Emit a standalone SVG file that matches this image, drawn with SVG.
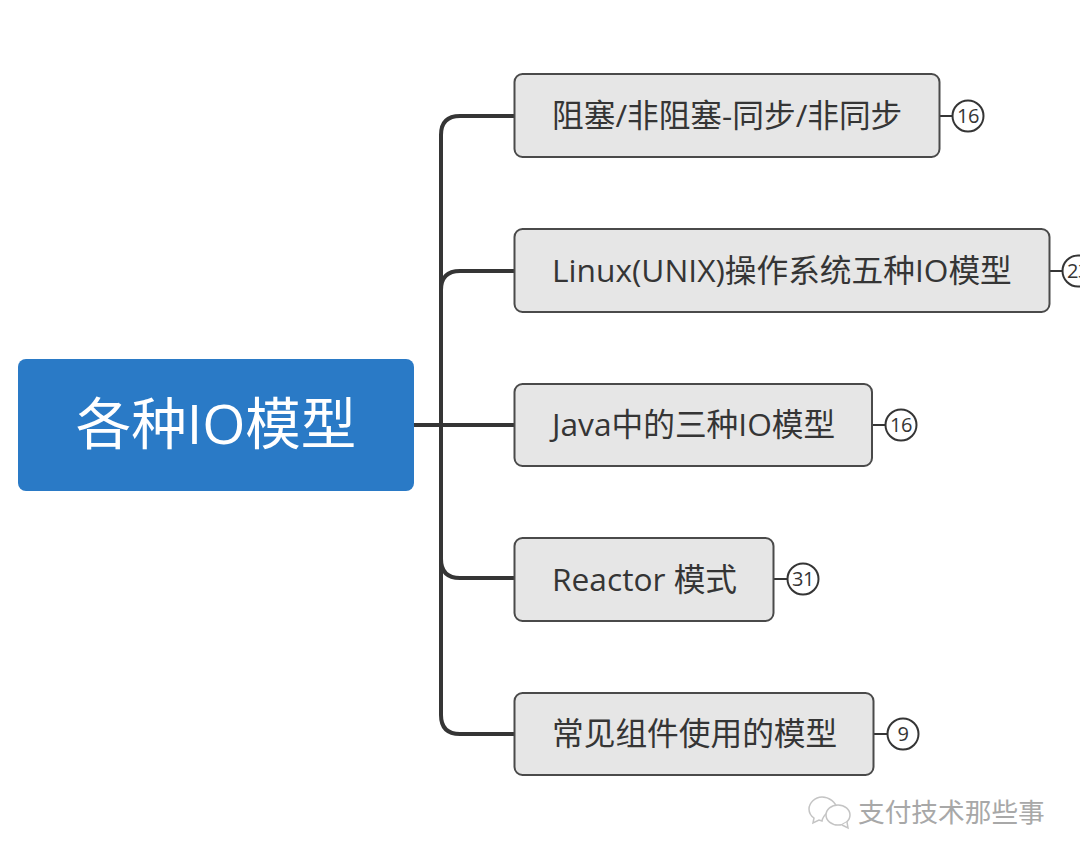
<svg xmlns="http://www.w3.org/2000/svg" width="1080" height="860" viewBox="0 0 1080 860">
<style>
text{font-family:"Noto Sans CJK SC","Noto Sans",sans-serif}
.n{fill:#e6e6e6;stroke:#4a4a4a;stroke-width:2}
.t{font-size:31.7px;fill:#353535;font-family:"Open Sans","Noto Sans CJK SC",sans-serif}
.c{fill:#fff;stroke:#353535;stroke-width:2}
.b{font-size:20px;fill:#353535;text-anchor:middle;font-family:"Open Sans",sans-serif;letter-spacing:-0.5px}
.l{fill:none;stroke:#353535;stroke-width:4}
.s{fill:none;stroke:#353535;stroke-width:2}
</style>
<rect width="1080" height="860" fill="#fff"/>
<g id="connectors">
<path class="l" d="M414 425H514"/>
<path class="l" d="M514 116H460Q441 116 441 135V715Q441 734 460 734H514"/>
<path class="l" d="M514 271H460Q441 271 441 290"/>
<path class="l" d="M514 578H460Q441 578 441 559"/>
<path class="s" d="M940 116H953M1050 271H1063M873 425H886M774 579H787M874 734H887"/>
</g>
<g id="root"><rect x="18" y="359" width="396" height="132" rx="8" fill="#2a7ac6"/>
<text x="216" y="444" font-size="55.5" fill="#fff" text-anchor="middle" style="font-family:'Open Sans','Noto Sans CJK SC',sans-serif">各种IO模型</text></g>
<g id="node1"><rect class="n" x="514.5" y="74" width="425" height="83" rx="8"/><text class="t" x="552" y="127">阻塞/非阻塞-同步/非同步</text>
<circle class="c" cx="968" cy="116" r="15.5"/><text class="b" x="968" y="123">16</text></g>
<g id="node2"><rect class="n" x="514.5" y="229" width="535" height="83" rx="8"/><text class="t" x="552" y="282">Linux(UNIX)操作系统五种IO模型</text>
<circle class="c" cx="1078" cy="271" r="15.5"/><text class="b" x="1078" y="278">23</text></g>
<g id="node3"><rect class="n" x="514.5" y="384" width="357.5" height="82" rx="8"/><text class="t" x="552" y="436">Java中的三种IO模型</text>
<circle class="c" cx="901" cy="425" r="15.5"/><text class="b" x="901" y="432">16</text></g>
<g id="node4"><rect class="n" x="514.5" y="538" width="259" height="83" rx="8"/><text class="t" x="552" y="591">Reactor 模式</text>
<circle class="c" cx="803" cy="579" r="15.5"/><text class="b" x="803" y="586">31</text></g>
<g id="node5"><rect class="n" x="514.5" y="693" width="359" height="82" rx="8"/><text class="t" x="552" y="745">常见组件使用的模型</text>
<circle class="c" cx="903" cy="734" r="15.5"/><text class="b" x="903" y="741">9</text></g>
<g id="watermark" fill="#fff" stroke="#c4c4c4" stroke-width="1.5">
<path d="M822 797c-7 0-13 6-13 12 0 4 2 7 5 9l-1 5 6-3 3 1c1-6 8-12 15-12-1-7-8-12-15-12z"/>
<ellipse cx="838" cy="815" rx="12" ry="10"/><path d="M842 825l6 3-1-6" />
<text x="858" y="822" font-size="26.7" fill="#a8a8a8" stroke="none">支付技术那些事</text></g>
</svg>
